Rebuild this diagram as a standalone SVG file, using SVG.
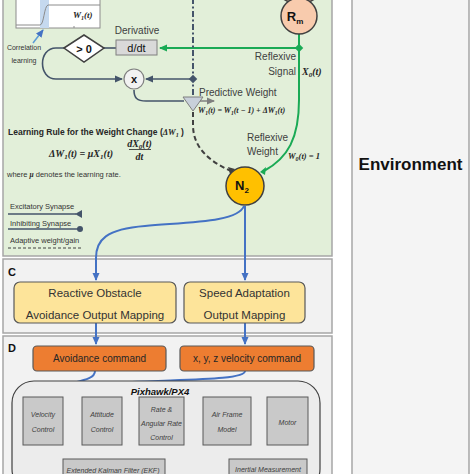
<svg xmlns="http://www.w3.org/2000/svg" width="474" height="474" viewBox="0 0 474 474">
<style>
.sans{font-family:"Liberation Sans",Arial,sans-serif}
.math{font-family:"Liberation Serif","Times New Roman",serif;font-weight:bold;font-style:italic;fill:#262626}
.lbl{font-size:10px;fill:#404040}
.panel{stroke:#a6a6a6;stroke-width:1.5}
.blk{fill:#c9c9c9;stroke:#595959;stroke-width:1}
.bt{font-size:7px;font-style:italic;fill:#404040;text-anchor:middle}
.blue{fill:none;stroke:#4472c4;stroke-width:2}
.slate{fill:none;stroke:#44546a;stroke-width:1.6}
.green{fill:none;stroke:#1aaa55;stroke-width:2}
.dark{fill:none;stroke:#262626;stroke-width:1.5}
.leg{font-size:7.5px;fill:#333}
</style>
<defs>
<marker id="ab" markerWidth="8" markerHeight="8" refX="7" refY="4" orient="auto" markerUnits="userSpaceOnUse"><path d="M0,0.5 L8,4 L0,7.5 Z" fill="#4472c4"/></marker>
<marker id="as" markerWidth="8" markerHeight="8" refX="7" refY="4" orient="auto" markerUnits="userSpaceOnUse"><path d="M0,0.5 L8,4 L0,7.5 Z" fill="#44546a"/></marker>
<marker id="ag" markerWidth="8" markerHeight="8" refX="7" refY="4" orient="auto" markerUnits="userSpaceOnUse"><path d="M0,0.5 L8,4 L0,7.5 Z" fill="#1aaa55"/></marker>
<marker id="ak" markerWidth="8" markerHeight="8" refX="7" refY="4" orient="auto" markerUnits="userSpaceOnUse"><path d="M0,0.5 L8,4 L0,7.5 Z" fill="#262626"/></marker>
<marker id="agr" markerWidth="8" markerHeight="8" refX="7" refY="4" orient="auto" markerUnits="userSpaceOnUse"><path d="M0,0.5 L8,4 L0,7.5 Z" fill="#7f7f7f"/></marker>
</defs>
<rect width="474" height="474" fill="#ffffff"/>

<g id="panels">
<rect class="panel" x="3" y="-2" width="329" height="258" fill="#e2efd9"/>
<rect class="panel" x="3" y="259" width="329" height="74" fill="#f2f2f2"/>
<rect class="panel" x="3" y="336" width="329" height="142" fill="#f2f2f2"/>
<text class="sans" x="8" y="276" font-size="11" font-weight="bold" fill="#111">C</text>
<text class="sans" x="8" y="352" font-size="11" font-weight="bold" fill="#111">D</text>
</g>

<g id="environment">
<rect class="panel" x="352" y="-2" width="117" height="478" fill="#f4f4f4"/>
<text class="sans" x="410.5" y="170" font-size="17" font-weight="bold" text-anchor="middle" fill="#111">Environment</text>
</g>

<g id="inset-plot">
<rect x="16" y="-2" width="84" height="30" fill="#ffffff" stroke="#8c8c8c" stroke-width="1"/>
<rect x="40" y="-2" width="9" height="30" fill="#c5d9ef"/>
<path d="M16,25 L40,25 C44,25 44,6 48,5 L100,5" fill="none" stroke="#8c8c8c" stroke-width="1"/>
<line x1="74" y1="26" x2="74" y2="28" stroke="#8c8c8c"/>
<text class="math" x="73" y="18" font-size="9">W<tspan font-size="6" dy="2">1</tspan><tspan dy="-2">(t)</tspan></text>
<line x1="33" y1="43" x2="43" y2="30" stroke="#5b9bd5" stroke-width="1.5" marker-end="url(#ab)"/>
<text class="sans" x="24" y="50" font-size="7" text-anchor="middle" fill="#333">Correlation</text>
<text class="sans" x="24" y="63" font-size="7" text-anchor="middle" fill="#333">learning</text>
</g>

<g id="connectors">
<path class="green" d="M299,33 L299,48 L160,48" marker-end="url(#ag)"/>
<path class="green" d="M299,48 L299,100 C299,138 288,158 264,171"/>
<path d="M193,-2 L193,97" fill="none" stroke="#44546a" stroke-width="2" stroke-dasharray="6 2.5 2 2.5"/>
<path d="M193,112 L193,125 C193,150 213,163 231,171" fill="none" stroke="#404040" stroke-width="2" stroke-dasharray="5 3"/>
<path class="slate" d="M193,79 L146,79" marker-end="url(#as)"/>
<path class="slate" d="M64,48 L56,48 C38,48 38,79 56,79 L122,79" marker-end="url(#as)"/>
<path class="slate" d="M134,90 C134,98 137,101 146,101 L184,101"/>
<path class="slate" d="M104,48 L116,48"/>
<line x1="193" y1="101" x2="214" y2="101" stroke="#7f7f7f" stroke-width="1.5" marker-end="url(#agr)"/>
<path class="blue" d="M244,206 C238,222 190,222 145,226 C106,229 96,240 96,258 L96,280" marker-end="url(#ab)"/>
<path class="blue" d="M245,206 L245,280" marker-end="url(#ab)"/>
<path class="blue" d="M96,323 L96,344" marker-end="url(#ab)"/>
<path class="blue" d="M245,323 L245,344" marker-end="url(#ab)"/>
<path class="blue" d="M95,371 C95,384 58,380 46,396" marker-end="url(#ab)"/>
<path class="blue" d="M245,371 C245,386 80,374 52,396" marker-end="url(#ab)"/>
<path class="dark" d="M63,421 L81,421" marker-end="url(#ak)"/>
<path class="dark" d="M122,421 L138,421" marker-end="url(#ak)"/>
<path class="dark" d="M184,421 L202,421" marker-end="url(#ak)"/>
<path class="dark" d="M251,421 L266,421" marker-end="url(#ak)"/>
<path class="dark" d="M43,454 L164,454" stroke-width="1.2"/>
<path class="dark" d="M43,454 L43,446" stroke-width="1.2" marker-end="url(#ak)"/>
<path class="dark" d="M102,459 L102,446" stroke-width="1.2" marker-end="url(#ak)"/>
<path class="dark" d="M164,454 L164,446" stroke-width="1.2" marker-end="url(#ak)"/>
<line x1="168" y1="464" x2="168" y2="474" stroke="#595959" stroke-width="1"/>
</g>

<g id="junctions">
<rect x="-3" y="-3" width="6" height="6" fill="#1aaa55" transform="translate(299,48) rotate(45)"/>
<rect x="-3" y="-3" width="6" height="6" fill="#44546a" transform="translate(193,79) rotate(45)"/>
</g>

<g id="node-rm">
<ellipse cx="299" cy="-4" rx="17" ry="7" fill="#f8cbad" stroke="#404040" stroke-width="1.5"/>
<circle cx="299" cy="16" r="18" fill="#f8cbad" stroke="#404040" stroke-width="1.5"/>
<text class="sans" x="295" y="21" font-size="13" font-weight="bold" text-anchor="middle" fill="#111">R<tspan font-size="8" dy="3">m</tspan></text>
</g>

<g id="node-derivative">
<text class="sans lbl" x="137" y="34" text-anchor="middle">Derivative</text>
<rect x="116" y="40" width="41" height="15" fill="#d9d9d9" stroke="#7f7f7f" stroke-width="1"/>
<text class="sans" x="136.5" y="51.5" font-size="11" text-anchor="middle" fill="#111">d/dt</text>
</g>

<g id="node-threshold">
<polygon points="64,48 84,35 104,48 84,62" fill="#ffffff" stroke="#404040" stroke-width="1.5"/>
<text class="sans" x="84" y="52.5" font-size="11" font-weight="bold" text-anchor="middle" fill="#111">&gt; 0</text>
</g>

<g id="node-multiply">
<circle cx="134" cy="79" r="10" fill="#f2f2f2" stroke="#7f7f7f" stroke-width="1.2"/>
<text class="sans" x="134" y="83" font-size="11" font-weight="bold" text-anchor="middle" fill="#111">x</text>
</g>

<g id="node-gain">
<polygon points="183,97 203,97 193,111" fill="#c8d0da" stroke="#7f7f7f" stroke-width="1"/>
<text class="sans lbl" x="199" y="96">Predictive Weight</text>
<text class="math" x="198" y="113" font-size="8">W<tspan font-size="5.5" dy="1.5">1</tspan><tspan dy="-1.5">(t) = W</tspan><tspan font-size="5.5" dy="1.5">1</tspan><tspan dy="-1.5">(t − 1) + ΔW</tspan><tspan font-size="5.5" dy="1.5">1</tspan><tspan dy="-1.5">(t)</tspan></text>
</g>

<g id="reflexive-labels">
<text class="sans lbl" x="296" y="60" text-anchor="end">Reflexive</text>
<text class="sans lbl" x="296" y="75" text-anchor="end">Signal</text>
<text class="math" x="302" y="75" font-size="10">X<tspan font-size="7" dy="2">0</tspan><tspan dy="-2">(t)</tspan></text>
<text class="sans lbl" x="247" y="141">Reflexive</text>
<text class="sans lbl" x="247" y="155">Weight</text>
<text class="math" x="288" y="159" font-size="8.5">W<tspan font-size="6" dy="1.5">0</tspan><tspan dy="-1.5">(t) = 1</tspan></text>
</g>

<g id="learning-rule">
<text class="sans" x="8" y="135" font-size="8.5" font-weight="bold" fill="#262626">Learning Rule for the Weight Change (<tspan class="math">ΔW</tspan><tspan class="math" font-size="6" dy="2">1</tspan><tspan dy="-2"> )</tspan></text>
<text class="math" x="49" y="157" font-size="10">ΔW<tspan font-size="7" dy="2">1</tspan><tspan dy="-2">(t) =  μX</tspan><tspan font-size="7" dy="2">1</tspan><tspan dy="-2">(t)</tspan></text>
<text class="math" x="139.5" y="147" font-size="10" text-anchor="middle">dX<tspan font-size="7" dy="2">0</tspan><tspan dy="-2">(t)</tspan></text>
<line x1="129" y1="149.5" x2="151" y2="149.5" stroke="#262626" stroke-width="0.8"/>
<text class="math" x="139.5" y="160" font-size="10" text-anchor="middle">dt</text>
<text class="sans" x="7" y="177" font-size="7.5" fill="#333">where <tspan class="math">μ</tspan> denotes the learning rate.</text>
</g>

<g id="legend">
<text class="sans leg" x="10" y="209">Excitatory  Synapse</text>
<line x1="8" y1="214" x2="76" y2="214" stroke="#44546a" stroke-width="1.5"/>
<polygon points="75,214 82,210 82,218" fill="#44546a"/>
<text class="sans leg" x="10" y="226">Inhibiting  Synapse</text>
<line x1="8" y1="229" x2="78" y2="229" stroke="#44546a" stroke-width="1.5"/>
<circle cx="80" cy="229" r="3" fill="#44546a"/>
<text class="sans leg" x="10" y="243">Adaptive weight/gain</text>
<line x1="8" y1="248" x2="82" y2="248" stroke="#404040" stroke-width="1" stroke-dasharray="3 2"/>
</g>

<g id="node-n2">
<polygon points="228,167 235,169 230,174" fill="#404040"/>
<polygon points="266,167 260,172 265,175" fill="#1aaa55"/>
<circle cx="245" cy="186" r="19" fill="#ffc000" stroke="#404040" stroke-width="1.5"/>
<text class="sans" x="242" y="190" font-size="13" font-weight="bold" text-anchor="middle" fill="#111">N<tspan font-size="8" dy="3">2</tspan></text>
</g>

<g id="node-reactive">
<rect x="14" y="282" width="162" height="41" rx="6" fill="#fde49a" stroke="#595959" stroke-width="1.2"/>
<text class="sans" x="95" y="297" font-size="11.5" text-anchor="middle" fill="#333">Reactive Obstacle</text>
<text class="sans" x="95" y="319" font-size="11.5" text-anchor="middle" fill="#333">Avoidance Output Mapping</text>
</g>
<g id="node-speed">
<rect x="184" y="282" width="121" height="41" rx="6" fill="#fde49a" stroke="#595959" stroke-width="1.2"/>
<text class="sans" x="244.5" y="297" font-size="11.5" text-anchor="middle" fill="#333">Speed Adaptation</text>
<text class="sans" x="244.5" y="319" font-size="11.5" text-anchor="middle" fill="#333">Output Mapping</text>
</g>

<g id="node-avoidance-cmd">
<rect x="33" y="346" width="133" height="25" rx="4" fill="#ed7d31" stroke="#595959" stroke-width="1.2"/>
<text class="sans" x="99.5" y="362" font-size="10" text-anchor="middle" fill="#262626">Avoidance command</text>
</g>
<g id="node-velocity-cmd">
<rect x="180" y="346" width="134" height="25" rx="4" fill="#ed7d31" stroke="#595959" stroke-width="1.2"/>
<text class="sans" x="247" y="362" font-size="10" text-anchor="middle" fill="#262626">x, y, z velocity command</text>
</g>

<g id="node-pixhawk">
<rect x="12" y="381" width="308" height="110" rx="22" fill="#ececec" stroke="#404040" stroke-width="1.2"/>
<text class="sans" x="160" y="395" font-size="9.5" font-weight="bold" font-style="italic" text-anchor="middle" fill="#111">Pixhawk/PX4</text>
</g>

<g id="node-velocity-control">
<rect class="blk" x="23" y="397" width="40" height="48"/>
<text class="sans bt" x="43" y="417">Velocity</text>
<text class="sans bt" x="43" y="432">Control</text>
</g>
<g id="node-attitude-control">
<rect class="blk" x="82" y="397" width="40" height="48"/>
<text class="sans bt" x="102" y="417">Attitude</text>
<text class="sans bt" x="102" y="432">Control</text>
</g>
<g id="node-rate-control">
<rect class="blk" x="139" y="397" width="45" height="48"/>
<text class="sans bt" x="161.5" y="411.5">Rate &amp;</text>
<text class="sans bt" x="161.5" y="425.5">Angular Rate</text>
<text class="sans bt" x="161.5" y="439.5">Control</text>
</g>
<g id="node-airframe">
<rect class="blk" x="203" y="397" width="48" height="48"/>
<text class="sans bt" x="227" y="417">Air Frame</text>
<text class="sans bt" x="227" y="432">Model</text>
</g>
<g id="node-motor">
<rect class="blk" x="267" y="397" width="41" height="48"/>
<text class="sans bt" x="287.5" y="424.5">Motor</text>
</g>
<g id="node-ekf">
<rect class="blk" x="63" y="459" width="102" height="20"/>
<text class="sans bt" x="113" y="472.5">Extended Kalman Filter (EKF)</text>
</g>
<g id="node-imu">
<rect class="blk" x="229" y="459" width="78" height="20"/>
<text class="sans bt" x="268" y="471.5">Inertial Measurement</text>
</g>
</svg>
